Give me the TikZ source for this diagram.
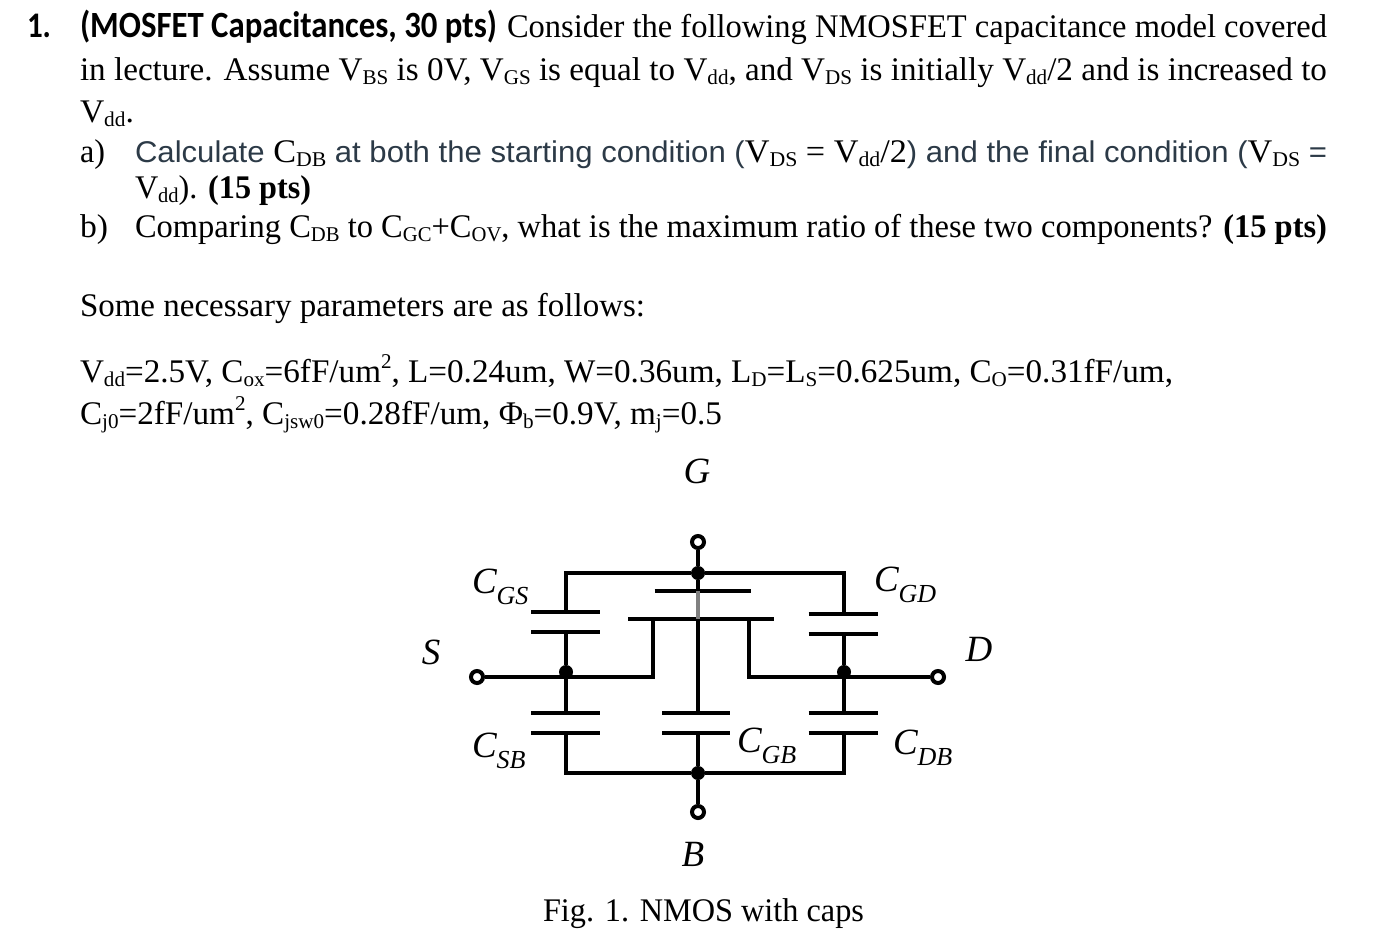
\documentclass[tikz,border=0pt]{standalone}
\usepackage{fontspec}
\usepackage{graphicx}
\setmainfont{Liberation Serif}
\newfontfamily\headfont{Carlito}
\newfontfamily\arialfont{Liberation Sans}
\definecolor{slate}{HTML}{2C3A47}
\newcommand{\sbs}[1]{\raisebox{-0.14em}{\fontsize{10.5}{10.5}\selectfont\rmfamily #1}}
\newcommand{\sps}[1]{\raisebox{0.42em}{\fontsize{10.5}{10.5}\selectfont #1}}
\newcommand{\fitw}[2]{\resizebox{#1pt}{\height}{\hbox{#2}}}
\newcommand{\csub}[2]{{\fontsize{18.5}{18.5}\selectfont\itshape #1}\raisebox{-0.3em}{\fontsize{13}{13}\selectfont\itshape #2}}
\tikzset{
  txt/.style={anchor=base west,inner sep=0pt,outer sep=0pt,font=\fontsize{16.5}{16.5}\selectfont,text=black},
  lbl/.style={inner sep=0pt,outer sep=0pt,font=\fontsize{18.5}{18.5}\selectfont\itshape,text=black},
  wire/.style={line width=2pt,black},
  thinwire/.style={line width=1.6pt,black},
  plate/.style={line width=1.7pt,black},
  dot/.style={circle,fill=black,inner sep=0pt,minimum size=7pt},
  term/.style={circle,draw=black,fill=white,line width=2pt,inner sep=0pt,minimum size=6pt},
}
\begin{document}
\begin{tikzpicture}[x=0.5pt,y=-0.5pt]
\useasboundingbox (0,0) rectangle (1380,932);
% --- text ---
\node[txt] (n1) at (27,37) {\fitw{12}{\headfont\bfseries\fontsize{18}{18}\selectfont 1.}};
\node[txt] (head) at (80,37) {\fitw{208.5}{\headfont\bfseries\fontsize{18.5}{18.5}\selectfont (MOSFET Capacitances, 30 pts)}};
\node[txt] (l1) at (507,37) {\fitw{410}{Consider the following NMOSFET capacitance model covered}};
\node[txt] (l2) at (80,80) {\fitw{623.5}{in lecture. Assume V\sbs{BS} is 0V, V\sbs{GS} is equal to V\sbs{dd}, and V\sbs{DS} is initially V\sbs{dd}/2 and is increased to}};
\node[txt] (l3) at (80,122) {\fitw{27}{V\sbs{dd}.}};
\node[txt] (al) at (80,162) {\fitw{12.5}{a)}};
\node[txt,text=slate] (a1) at (135,162) {\fitw{596}{{\arialfont\fontsize{15}{15}\selectfont Calculate} \textcolor{black}{C\sbs{DB}} {\arialfont\fontsize{15}{15}\selectfont at both the starting condition (}\textcolor{black}{V\sbs{DS} = V\sbs{dd}/2}{\arialfont\fontsize{15}{15}\selectfont ) and the final condition (}\textcolor{black}{V\sbs{DS}} {\arialfont\fontsize{15}{15}\selectfont =}}};
\node[txt] (a2) at (135,198) {\fitw{88}{V\sbs{dd}). \textbf{(15 pts)}}};
\node[txt] (bl) at (80,237) {\fitw{14}{b)}};
\node[txt] (b1) at (135,237) {\fitw{596}{Comparing C\sbs{DB} to C\sbs{GC}+C\sbs{OV}, what is the maximum ratio of these two components? \textbf{(15 pts)}}};
\node[txt] (some) at (80,316) {\fitw{282.5}{Some necessary parameters are as follows:}};
\node[txt] (p1) at (80,382) {\fitw{546.5}{V\sbs{dd}=2.5V, C\sbs{ox}=6fF/um\sps{2}, L=0.24um, W=0.36um, L\sbs{D}=L\sbs{S}=0.625um, C\sbs{O}=0.31fF/um,}};
\node[txt] (p2) at (80,424) {\fitw{321}{C\sbs{j0}=2fF/um\sps{2}, C\sbs{jsw0}=0.28fF/um, Φ\sbs{b}=0.9V, m\sbs{j}=0.5}};
\node[txt] (fig) at (543,921) {\fitw{160.5}{Fig. 1. NMOS with caps}};
% --- terminal labels ---
\node[lbl] (lG) at (697,471) {G};
\node[lbl] (lS) at (431,652) {S};
\node[lbl] (lD) at (979,649) {D};
\node[lbl] (lB) at (693,854) {B};
\node[lbl,anchor=base west] (lGS) at (472,593) {\csub{C}{GS}};
\node[lbl,anchor=base west] (lGD) at (874,591) {\csub{C}{GD}};
\node[lbl,anchor=base west] (lSB) at (472,757) {\csub{C}{SB}};
\node[lbl,anchor=base west] (lGB) at (737,752) {\csub{C}{GB}};
\node[lbl,anchor=base west] (lDB) at (893,754) {\csub{C}{DB}};
% --- junctions and terminals ---
\node[dot] (jG) at (698,573) {};
\node[dot] (jS) at (566,672) {};
\node[dot] (jD) at (844,672) {};
\node[dot] (jB) at (698,773) {};
\node[term] (tG) at (698,542) {};
\node[term] (tS) at (477,677) {};
\node[term] (tD) at (938,677) {};
\node[term] (tB) at (698,812) {};
% --- corners and plates ---
\coordinate (cTL) at (566,573);
\coordinate (cTR) at (844,573);
\coordinate (cBL) at (566,773);
\coordinate (cBR) at (844,773);
\coordinate (gsT) at (566,612); \coordinate (gsB) at (566,632);
\coordinate (gdT) at (844,614); \coordinate (gdB) at (844,634);
\coordinate (sbT) at (566,713); \coordinate (sbB) at (566,733);
\coordinate (gbT) at (698,713); \coordinate (gbB) at (698,733);
\coordinate (dbT) at (844,713); \coordinate (dbB) at (844,733);
\coordinate (gate) at (698,591);
\coordinate (chan) at (698,619);
\coordinate (sUp) at (653,619);
\coordinate (sDn) at (653,677);
\coordinate (dUp) at (749,619);
\coordinate (dDn) at (749,677);
% plates
\foreach \p in {gsT,gsB,sbT,sbB}{\draw[plate] ([xshift=-17.5pt]\p) -- ([xshift=17pt]\p);}
\foreach \p in {gdT,gdB,dbT,dbB}{\draw[plate] ([xshift=-17.7pt]\p) -- ([xshift=16.8pt]\p);}
\foreach \p in {gbT,gbB}{\draw[plate] ([xshift=-18pt]\p) -- ([xshift=16pt]\p);}
\draw[plate] ([xshift=-21.7pt]gate) -- ([xshift=26.5pt]gate);
\draw[plate] ([xshift=-35pt]chan) -- ([xshift=38pt]chan);
% wiring
\draw[wire,line join=miter] (gsT) -- (cTL) -- (jG) -- (cTR) -- (gdT);
\draw[wire] (gsB) -- (jS) -- (sbT);
\draw[wire] (gdB) -- (jD) -- (dbT);
\draw[wire,line join=miter] (sbB) -- (cBL) -- (jB) -- (cBR) -- (dbB);
\draw[thinwire] (tG) -- (jG);
\draw[wire] (jB) -- (tB);
\draw[wire] (gbB) -- (jB);
\draw[thinwire] (chan) -- (gbT);
\draw[thinwire] (jG) -- (gate);
\draw[line width=2.2pt,black!50] (gate) -- (chan);
\draw[thinwire,line join=miter] (tS) -- (sDn) -- (sUp);
\draw[thinwire,line join=miter] (tD) -- (dDn) -- (dUp);
\end{tikzpicture}
\end{document}
